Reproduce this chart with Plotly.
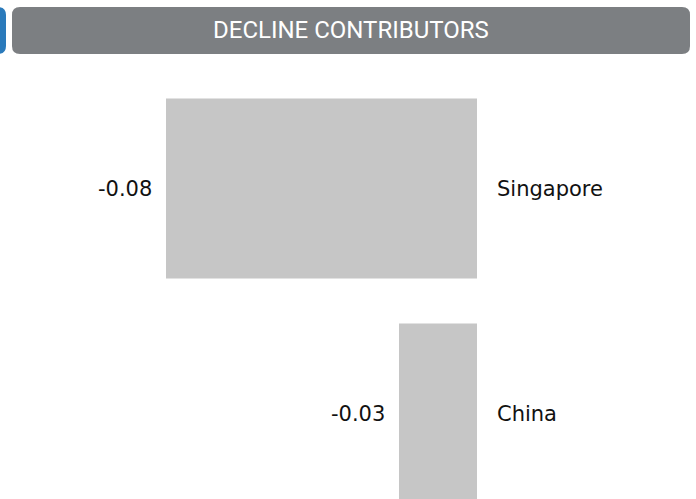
import plotly.graph_objects as go

# Decline contributors: country and its contribution
countries = ["Singapore", "China"]
contributions = [-0.08, -0.03]
value_labels = ["-0.08", "-0.03"]

title_text = "DECLINE CONTRIBUTORS"

BAR_COLOR = "#c6c6c6"
HEADER_COLOR = "#7c7f82"
ACCENT_COLOR = "#2a7abb"
LABEL_FONT = dict(family="DejaVu Sans", size=21, color="#111111")

fig = go.Figure()

fig.add_trace(go.Bar(
    y=countries,
    x=contributions,
    orientation="h",
    marker=dict(color=BAR_COLOR, line=dict(width=0)),
    width=0.8,
    hoverinfo="skip",
))

# value labels just left of each bar's end
for c, v, t in zip(countries, contributions, value_labels):
    fig.add_annotation(
        x=v, y=c, xref="x", yref="y",
        text=t, showarrow=False,
        xanchor="right", yanchor="middle",
        xshift=-12,
        font=LABEL_FONT,
    )


def rounded_rect(x0, x1, y0, y1, r):
    # y values measured upward from the anchor (pixel sizing mode)
    return (
        f"M {x0 + r},{y1} L {x1 - r},{y1} Q {x1},{y1} {x1},{y1 - r} "
        f"L {x1},{y0 + r} Q {x1},{y0} {x1 - r},{y0} "
        f"L {x0 + r},{y0} Q {x0},{y0} {x0},{y0 + r} "
        f"L {x0},{y1 - r} Q {x0},{y1} {x0 + r},{y1} Z"
    )


header_common = dict(
    type="path", xref="paper", yref="paper",
    xsizemode="pixel", ysizemode="pixel",
    xanchor=0, yanchor=1,
    line=dict(width=0), layer="above",
)
# plot area top sits 76px below the page top; header spans 7..54px
fig.add_shape(path=rounded_rect(-20, 6, 22, 69, 8), fillcolor=ACCENT_COLOR, **header_common)
fig.add_shape(path=rounded_rect(12, 690, 22, 69, 8), fillcolor=HEADER_COLOR, **header_common)

fig.add_annotation(
    x=351 / 477, y=1, xref="paper", yref="paper",
    xanchor="center", yanchor="middle", yshift=46,
    text=title_text, showarrow=False,
    font=dict(family="Roboto", size=24, color="#ffffff"),
)

fig.update_layout(
    width=696, height=499,
    margin=dict(l=0, r=219, t=76, b=0, pad=0),
    paper_bgcolor="#ffffff",
    plot_bgcolor="#ffffff",
    showlegend=False,
    bargap=0.2,
    xaxis=dict(
        range=[-0.11562, -0.01326],
        showgrid=False, zeroline=False, showticklabels=False,
        showline=False, fixedrange=True,
    ),
    yaxis=dict(
        type="category",
        categoryorder="array", categoryarray=countries,
        range=[1.38, -0.5],
        side="right",
        showgrid=False, zeroline=False, showline=False,
        ticks="", ticklabelstandoff=19,
        tickfont=LABEL_FONT,
        fixedrange=True,
    ),
)

fig.write_html("out.html")
